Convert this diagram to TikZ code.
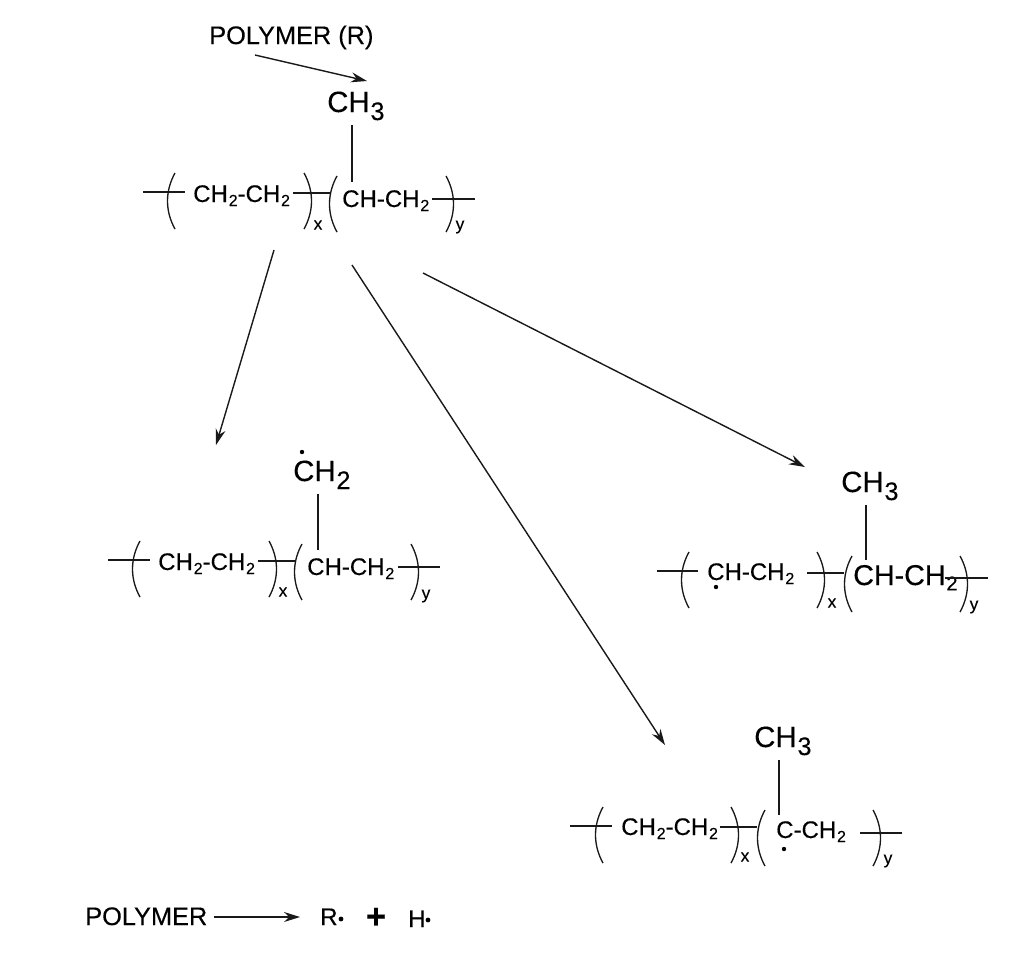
\documentclass[tikz,border=0pt]{standalone}
\usepackage{fontspec}
\setmainfont[FakeBold=0.25]{Liberation Sans}
\usetikzlibrary{arrows.meta}
\def\sbs#1#2#3{\hspace{0.6pt}\raisebox{-#1pt}{\fontsize{#2}{#2}\selectfont #3}}
\def\lbr(#1,#2){\draw[bond] (#1,#2) .. controls ({#1-10},{#2+18}) and ({#1-10},{#2+38}) .. (#1,{#2+56});}
\def\rbr(#1,#2){\draw[bond] (#1,#2) .. controls ({#1+10},{#2+18}) and ({#1+10},{#2+38}) .. (#1,{#2+56});}
\tikzset{
	bond/.style={line width=1pt, black!90},
	react/.style={line width=1.05pt, black!90, -{Stealth[length=12pt,width=7.5pt]}},
	chain/.style={anchor=base west, inner sep=0pt, font=\fontsize{18}{20}\selectfont},
	bigchain/.style={anchor=base west, inner sep=0pt, font=\fontsize{21.5}{24}\selectfont},
	group/.style={anchor=base west, inner sep=0pt, font=\fontsize{22}{24}\selectfont},
	title/.style={anchor=base west, inner sep=0pt, font=\fontsize{19}{20}\selectfont},
	idx/.style={inner sep=0pt, font=\fontsize{13}{14}\selectfont}
}
\begin{document}
\begin{tikzpicture}[x=0.75pt,y=-0.75pt]
	\useasboundingbox (0,0) rectangle (1024,958);
	%%%%% top chain %%%%%
	\node[title] (polyR) at (209,44) {POLYMER (R)};
	\coordinate (polyRout) at (255,55);
	\coordinate (polyRin) at (367,81);
	\draw[react] (polyRout) -- (polyRin);
	
	\node[group] (topgroup) at (327,112) {CH\sbs{6}{19}{3}};
	\node[chain] (topA) at (193,202) {CH\sbs{3}{12}{2}-CH\sbs{3}{12}{2}};
	\node[chain] (topB) at (342,207) {CH-CH\sbs{3}{12}{2}};
	\node[idx] (topx) at (318,225) {x};
	\node[idx] (topy) at (460,227) {y};
	\coordinate (topup) at (352,125);
	\coordinate (topdown) at (352,182);
	\draw[bond] (topup) -- (topdown);
	\draw[bond] (143,192) -- (185,192);
	\draw[bond] (293,193) -- (330,193);
	\draw[bond] (432,199) -- (475,199);
	\lbr(175,173)
	\rbr(304,173)
	\lbr(337,176)
	\rbr(446,176)
	
	%%%%% left chain %%%%%
	\node[group] (leftgroup) at (293,481) {CH\sbs{6}{19}{2}};
	\fill (302,452) circle (2.2);
	\node[chain] (leftA) at (158,570) {CH\sbs{3}{12}{2}-CH\sbs{3}{12}{2}};
	\node[chain] (leftB) at (307,575) {CH-CH\sbs{3}{12}{2}};
	\node[idx] (leftx) at (283,592) {x};
	\node[idx] (lefty) at (426,596) {y};
	\coordinate (leftup) at (318,494);
	\coordinate (leftdown) at (318,550);
	\draw[bond] (leftup) -- (leftdown);
	\draw[bond] (108,560) -- (150,560);
	\draw[bond] (258,561) -- (296,561);
	\draw[bond] (398,567) -- (440,567);
	\lbr(140,541)
	\rbr(269,541)
	\lbr(302,544)
	\rbr(411,544)
	
	%%%%% right chain %%%%%
	\node[group] (rightgroup) at (841,492) {CH\sbs{6}{19}{3}};
	\node[chain] (rightA) at (707,580) {CH-CH\sbs{3}{12}{2}};
	\fill (716,587) circle (2.2);
	\node[bigchain] (rightB) at (853,585) {CH-CH\sbs{4}{15}{2}};
	\node[idx] (rightx) at (832,603) {x};
	\node[idx] (righty) at (974,607) {y};
	\coordinate (rightup) at (866,505);
	\coordinate (rightdown) at (866,560);
	\draw[bond] (rightup) -- (rightdown);
	\draw[bond] (657,571) -- (698,571);
	\draw[bond] (807,573) -- (844,573);
	\draw[bond] (945,578) -- (988,578);
	\lbr(689,552)
	\rbr(817,552)
	\lbr(852,556)
	\rbr(960,556)
	
	%%%%% lower chain %%%%%
	\node[group] (lowgroup) at (754,747) {CH\sbs{6}{19}{3}};
	\node[chain] (lowA) at (621,835) {CH\sbs{3}{12}{2}-CH\sbs{3}{12}{2}};
	\node[chain] (lowB) at (776,838) {C-CH\sbs{3}{12}{2}};
	\fill (784,849) circle (2.2);
	\node[idx] (lowx) at (745,857) {x};
	\node[idx] (lowy) at (888,861) {y};
	\coordinate (lowup) at (779,760);
	\coordinate (lowdown) at (779,815);
	\draw[bond] (lowup) -- (lowdown);
	\draw[bond] (570,826) -- (612,826);
	\draw[bond] (720,827) -- (757,827);
	\draw[bond] (860,833) -- (902,833);
	\lbr(603,807)
	\rbr(731,807)
	\lbr(765,810)
	\rbr(873,810)
	
	%%%%% arrows %%%%%
	\coordinate (outL) at (274,250);
	\coordinate (inL) at (216,445);
	\coordinate (outM) at (352,265);
	\coordinate (inM) at (665,745);
	\coordinate (outR) at (423,273);
	\coordinate (inR) at (805,467);
	\draw[react] (outL) -- (inL);
	\draw[react] (outM) -- (inM);
	\draw[react] (outR) -- (inR);
	
	%%%%% bottom %%%%%
	\node[title] (poly) at (85,925) {POLYMER};
	\node[chain] (prodR) at (320,925) {R};
	\fill (341,919) circle (2.4);
	\node[anchor=center, inner sep=0pt, font=\fontsize{26}{26}\selectfont\bfseries] (plus) at (376,918) {+};
	\node[chain] (prodH) at (408,927) {H};
	\fill (428,920) circle (2.4);
	\coordinate (polyout) at (214,917);
	\coordinate (polyin) at (300,917);
	\draw[react] (polyout) -- (polyin);
\end{tikzpicture}
\end{document}
